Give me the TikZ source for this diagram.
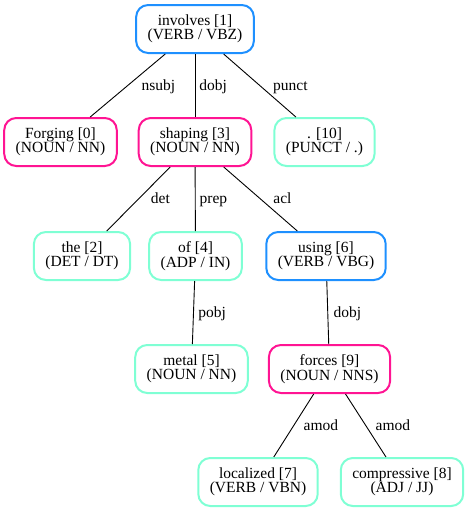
\documentclass[tikz,border=0pt]{standalone}
\usepackage{fontspec}
\setmainfont{Liberation Serif}
\usepackage{tikz}
\definecolor{verbblue}{RGB}{30,144,255}
\definecolor{nounpink}{RGB}{255,20,147}
\definecolor{otheraqua}{RGB}{127,255,212}

\begin{document}
\begin{tikzpicture}[x=1pt,y=-1pt,
  tok/.style={draw,rounded corners=12pt,line width=2pt,fill=white,align=center,
    inner xsep=11.5pt,minimum height=48pt,font=\fontsize{15.5}{14.5}\selectfont},
  verb/.style={tok,draw=verbblue},
  noun/.style={tok,draw=nounpink},
  other/.style={tok,draw=otheraqua},
  arc/.style={line width=0.9pt},
  lbl/.style={midway,anchor=west,inner sep=0pt,xshift=12pt,yshift=-1pt,
    text height=10.5pt,text depth=3pt,font=\fontsize{15.5}{14.5}\selectfont}]
  \useasboundingbox (0,0) rectangle (471,512);
  \node[verb] (involves) at (195,29) {involves [1]\\(VERB / VBZ)};
  \node[noun] (forging) at (60.5,142) {Forging [0]\\(NOUN / NN)};
  \node[noun] (shaping) at (195,142) {shaping [3]\\(NOUN / NN)};
  \node[other] (period) at (324.5,142) {. [10]\\(PUNCT / .)};
  \node[other] (the) at (82,256) {the [2]\\(DET / DT)};
  \node[other] (of) at (195.5,256) {of [4]\\(ADP / IN)};
  \node[verb] (using) at (326,256) {using [6]\\(VERB / VBG)};
  \node[other] (metal) at (191.5,369) {metal [5]\\(NOUN / NN)};
  \node[noun] (forces) at (329.5,369) {forces [9]\\(NOUN / NNS)};
  \node[other] (localized) at (258,482) {localized [7]\\(VERB / VBN)};
  \node[other] (compressive) at (402,482) {compressive [8]\\(ADJ / JJ)};
  % dependency arcs
  \draw[arc] (involves) -- (forging) node[lbl,xshift=1.5pt] {nsubj};
  \draw[arc] (involves) -- (shaping) node[lbl,xshift=-8pt] {dobj};
  \draw[arc] (involves) -- (period) node[lbl,xshift=1pt] {punct};
  \draw[arc] (shaping) -- (the) node[lbl] {det};
  \draw[arc] (shaping) -- (of) node[lbl,xshift=-8pt] {prep};
  \draw[arc] (shaping) -- (using) node[lbl,xshift=0.5pt] {acl};
  \draw[arc] (of) -- (metal) node[lbl,xshift=-7.5pt] {pobj};
  \draw[arc] (using) -- (forces) node[lbl,xshift=-6.5pt] {dobj};
  \draw[arc] (forces) -- (localized) node[lbl,xshift=-2.5pt] {amod};
  \draw[arc] (forces) -- (compressive) node[lbl,xshift=-2.5pt] {amod};
\end{tikzpicture}
\end{document}
